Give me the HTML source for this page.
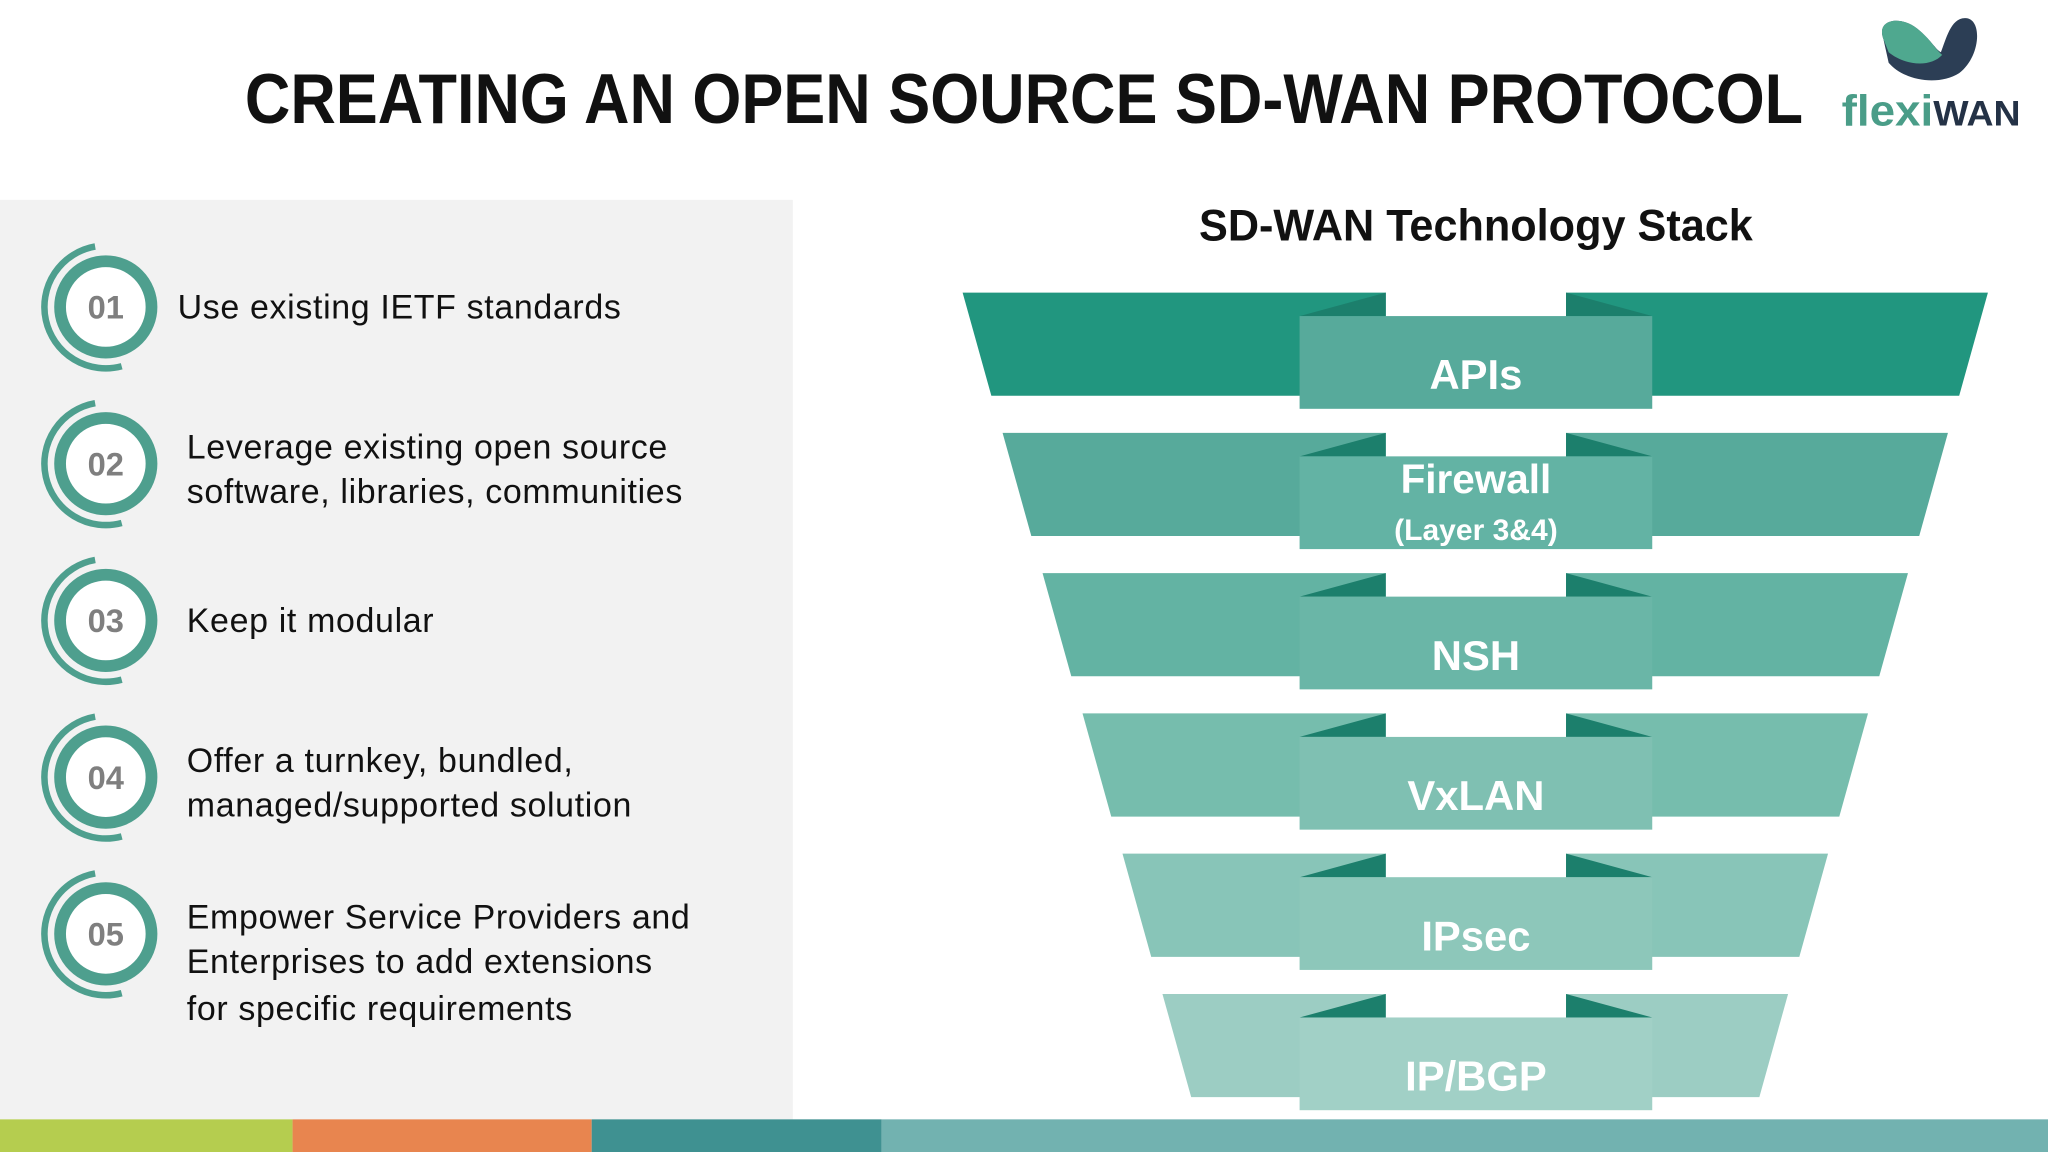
<!DOCTYPE html>
<html><head><meta charset="utf-8"><style>
html,body{margin:0;padding:0;background:#fff;}
svg{display:block;font-family:"Liberation Sans",sans-serif;}
</style></head><body>
<svg id="s" width="2048" height="1152" viewBox="0 0 1568 882" xmlns="http://www.w3.org/2000/svg">
<rect x="0" y="0" width="1568" height="882" fill="#ffffff"/>
<text x="784" y="94" text-anchor="middle" font-size="54" font-weight="bold" fill="#111" textLength="1193" lengthAdjust="spacingAndGlyphs">CREATING AN OPEN SOURCE SD-WAN PROTOCOL</text>
<g>
<path d="M1442 30 C1436 14 1456 12 1468 22 C1478 30 1482 38 1486 40 C1490 30 1494 12 1506 14 C1518 16 1516 44 1500 56 C1484 66 1458 62 1446 48 Z" fill="#2c3e55"/>
<path d="M1442 30 C1436 14 1456 12 1468 22 C1478 30 1482 38 1487 42 C1478 52 1458 50 1446 40 Z" fill="#4fa88f"/>
<text x="1410" y="96" font-size="33" font-weight="bold" fill="#4a9d88" textLength="137" lengthAdjust="spacingAndGlyphs">flexi<tspan fill="#243246" font-size="27">WAN</tspan></text>
</g>
<rect x="0" y="153" width="607" height="704" fill="#f2f2f2"/>
<g id="items"></g>
<text x="1130" y="184" text-anchor="middle" font-size="34" font-weight="bold" fill="#111" textLength="424" lengthAdjust="spacingAndGlyphs">SD-WAN Technology Stack</text>
<g id="stack"></g>
<rect x="0" y="857" width="224" height="25" fill="#b5cd4f"/>
<rect x="224" y="857" width="229" height="25" fill="#e8854f"/>
<rect x="453" y="857" width="222" height="25" fill="#3f9191"/>
<rect x="675" y="857" width="893" height="25" fill="#72b2b0"/>
</svg>
<script>
const itemNums=["01","02","03","04","05"];
const itemLines=[["Use existing IETF standards"],["Leverage existing open source","software, libraries, communities"],["Keep it modular"],["Offer a turnkey, bundled,","managed/supported solution"],["Empower Service Providers and","Enterprises to add extensions","for specific requirements"]];
const layerLabels=["APIs","Firewall","NSH","VxLAN","IPsec","IP/BGP"];
const layerColors=["#21967f","#57aa9b","#63b3a3","#76bdad","#88c5b8","#9ccdc3"];
const boxColors=["#57aa9b","#63b3a4","#6ab6a7","#7fc0b2","#8dc7ba","#a1d0c6"];
const NS="http://www.w3.org/2000/svg";
function mk(t,a,p){const e=document.createElementNS(NS,t);for(const k in a)e.setAttribute(k,a[k]);p.appendChild(e);return e;}
const items=document.getElementById('items');
itemNums.forEach((n,i)=>{
  const cy=235+i*120, cx=81;
  const g=mk('g',{},items);
  
  
  const r=47;
  const a1=-100*Math.PI/180,a2=75*Math.PI/180;
  const arc=mk('path',{d:`M${cx+r*Math.cos(a1)} ${cy+r*Math.sin(a1)} A${r} ${r} 0 1 0 ${cx+r*Math.cos(a2)} ${cy+r*Math.sin(a2)}`,fill:'none',stroke:'#4e9f8e','stroke-width':5},g);
  
  
  const c=mk('circle',{cx:cx,cy:cy,r:35,fill:'#fff',stroke:'#4e9f8e','stroke-width':9},g);
  
  
  const t=mk('text',{x:cx,y:cy+9,'text-anchor':'middle','font-size':25,'font-weight':'bold',fill:'#7f7f7f'},g);
  t.textContent=n;
  
  
  const lines=itemLines[i];
  const tx=i===0?136:143;
  const y0=lines.length===1?cy+9:cy-4;
  lines.forEach((l,j)=>{
    const tt=mk('text',{x:tx,y:y0+j*34+(j==2?2:0),'font-size':26,'letter-spacing':0.5,fill:'#111'},g);
    tt.textContent=l;
    
    
  });
});
const stack=document.getElementById('stack');
layerLabels.forEach((lab,i)=>{
  const top=224+i*107.4, h=79;
  const lt=737+i*30.6, rt=1522-i*30.6, inset=22;
  const g=mk('g',{},stack);
  
  
  const wl=mk('polygon',{points:`${lt},${top} 1061,${top} 1061,${top+h} ${lt+inset},${top+h}`,fill:layerColors[i]},g);
  
  
  const wr=mk('polygon',{points:`1199,${top} ${rt},${top} ${rt-inset},${top+h} 1199,${top+h}`,fill:layerColors[i]},g);
  
  
  const f1=mk('polygon',{points:`995,${top+18} 1061,${top} 1061,${top+18}`,fill:'#1c7f6c'},g);
  
  
  const f2=mk('polygon',{points:`1199,${top} 1265,${top+18} 1199,${top+18}`,fill:'#1c7f6c'},g);
  
  
  const b=mk('rect',{x:995,y:top+18,width:270,height:h-8,fill:boxColors[i]},g);
  
  
  if(lab==='Firewall'){
    const t=mk('text',{x:1130,y:top+46,'text-anchor':'middle','font-size':31,'font-weight':'bold',fill:'#fff'},g);
    t.textContent='Firewall';
    
    
    const t2=mk('text',{x:1130,y:top+82,'text-anchor':'middle','font-size':23,'font-weight':'bold',fill:'#fff'},g);
    t2.textContent='(Layer 3&4)';
    
    
  } else {
    const t=mk('text',{x:1130,y:top+74,'text-anchor':'middle','font-size':32,'font-weight':'bold',fill:'#fff'},g);
    t.textContent=lab;
    
    
  }
});
</script>
</body></html>
